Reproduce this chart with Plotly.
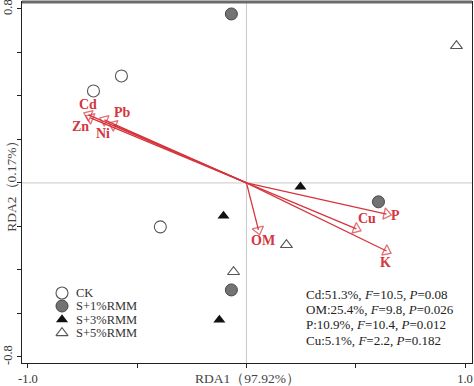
import plotly.graph_objects as go

# Sample scores
ck_x = [-0.70, -0.572, -0.394]
ck_y = [0.423, 0.492, -0.202]
s1_x = [-0.069, 0.604, -0.069]
s1_y = [0.777, -0.087, -0.492]
s3_x = [0.247, -0.105, -0.124]
s3_y = [-0.018, -0.152, -0.630]
s5_x = [0.961, 0.183, -0.059]
s5_y = [0.630, -0.285, -0.409]

# Environmental vectors
env_names = ["Cd", "Zn", "Pb", "Ni", "P", "Cu", "K", "OM"]
env_x = [-0.723, -0.714, -0.650, -0.609, 0.641, 0.503, 0.641, 0.055]
env_y = [0.313, 0.299, 0.290, 0.267, -0.143, -0.211, -0.313, -0.216]
# label offsets in pixels (dx, dy)
lab_off = {"Cd": (0, -10), "Zn": (-10, 9), "Pb": (18, -7), "Ni": (-10, 9),
           "P": (9, 1), "Cu": (11, -10), "K": (-1, 11), "OM": (5, 11)}

legend_names = ["CK", "S+1%RMM", "S+3%RMM", "S+5%RMM"]

stats_lines = ["Cd:51.3%, <i>F</i>=10.5, <i>P</i>=0.08",
               "OM:25.4%, <i>F</i>=9.8, <i>P</i>=0.026",
               "P:10.9%, <i>F</i>=10.4, <i>P</i>=0.012",
               "Cu:5.1%, <i>F</i>=2.2, <i>P</i>=0.182"]

x_ticks = [-1.0, -0.5, 0.0, 0.5, 1.0]
x_text = ["-1.0", "", "", "", "1.0"]
y_ticks = [-0.8, -0.6, -0.4, -0.2, 0.0, 0.2, 0.4, 0.6, 0.8]
y_text = ["-0.8", "", "", "", "", "", "", "", "0.8"]

RED = "#d6353d"
SERIF = "Liberation Serif, Times New Roman, serif"

styles = [
    dict(symbol="circle-open", size=12, color="#555555", line=dict(width=1.1)),
    dict(symbol="circle", size=12, color="#737373", line=dict(width=1, color="#444444")),
    dict(symbol="triangle-up", size=10.5, color="#111111"),
    dict(symbol="triangle-up-open", size=10.5, color="#555555", line=dict(width=1.1)),
]

fig = go.Figure()

# zero lines
fig.add_shape(type="line", xref="x", yref="paper", x0=0, x1=0, y0=0, y1=1,
              line=dict(color="#c8c8c8", width=1), layer="below")
fig.add_shape(type="line", xref="paper", yref="y", x0=0, x1=1, y0=0, y1=0,
              line=dict(color="#c8c8c8", width=1), layer="below")
# heavier grey top frame edge
fig.add_shape(type="line", xref="paper", yref="paper", x0=0, x1=1, y0=1, y1=1,
              line=dict(color="#6a6a6a", width=3))

for name, ex, ey in zip(env_names, env_x, env_y):
    fig.add_trace(go.Scatter(
        x=[0, ex], y=[0, ey], mode="lines+markers", showlegend=False,
        line=dict(color=RED, width=1.3),
        marker=dict(symbol="triangle-up-open", size=[0, 10], angleref="previous",
                    color=RED, line=dict(color=RED, width=1.3)),
        hoverinfo="skip"))
    dx, dy = lab_off[name]
    fig.add_annotation(x=ex, y=ey, text="<b>%s</b>" % name, showarrow=False,
                       xshift=dx, yshift=-dy,
                       font=dict(family=SERIF, size=14, color=RED))

for nm, xs, ys, st in zip(legend_names, [ck_x, s1_x, s3_x, s5_x],
                          [ck_y, s1_y, s3_y, s5_y], styles):
    fig.add_trace(go.Scatter(x=xs, y=ys, mode="markers", name=nm, marker=st,
                             showlegend=False))

# manual legend (compact spacing) on an overlay axis measured in pixels
leg_rows = [293, 306, 319.5, 333]
for nm, st, ly in zip(legend_names, styles, leg_rows):
    fig.add_trace(go.Scatter(x=[62], y=[ly], mode="markers", marker=st,
                             xaxis="x2", yaxis="y2", showlegend=False,
                             hoverinfo="skip"))
    fig.add_annotation(xref="x2", yref="y2", x=74, y=ly, text=nm,
                       xanchor="left", showarrow=False,
                       font=dict(family=SERIF, size=12.5, color="#333333"))

# statistics text block
stat_rows = [294, 309, 324.5, 340]
for line, ry in zip(stats_lines, stat_rows):
    fig.add_annotation(xref="x2", yref="y2", x=304, y=ry, xanchor="left",
                       showarrow=False, text=line,
                       font=dict(family=SERIF, size=13, color="#222222"))

# axis titles
fig.add_annotation(xref="paper", yref="paper", x=0.5, y=-0.042, text="RDA1（97.92%）",
                   showarrow=False, yanchor="middle",
                   font=dict(family=SERIF, size=13.5, color="#444444"))
fig.add_annotation(xref="paper", yref="paper", x=-0.024, y=0.5, text="RDA2（0.17%）",
                   showarrow=False, xanchor="center", textangle=-90,
                   font=dict(family=SERIF, size=13.5, color="#444444"))

fig.update_layout(
    width=474, height=386,
    margin=dict(l=22, r=2, t=2, b=23, autoexpand=False),
    paper_bgcolor="white", plot_bgcolor="white",
    font=dict(family=SERIF, size=12, color="#333333"),
    showlegend=False,
    xaxis=dict(range=[-1.027, 1.032], tickvals=x_ticks, ticktext=x_text,
               showgrid=False, zeroline=False, showline=True, linecolor="#222222",
               linewidth=1.2, mirror=True, ticks="outside", ticklen=4,
               tickcolor="#222222", automargin=False, ticklabeloverflow="allow",
               tickfont=dict(family=SERIF, size=12.5, color="#333333")),
    yaxis=dict(range=[-0.828, 0.832], tickvals=y_ticks, ticktext=y_text,
               showgrid=False, zeroline=False, showline=True, linecolor="#222222",
               linewidth=1.2, mirror=True, ticks="outside", ticklen=4,
               tickcolor="#222222", tickangle=-90, automargin=False,
               ticklabeloverflow="allow",
               tickfont=dict(family=SERIF, size=12.5, color="#333333")),
    xaxis2=dict(overlaying="x", range=[22, 472], visible=False, anchor="y2"),
    yaxis2=dict(overlaying="y", range=[363, 2], visible=False, anchor="x2"),
)

fig.write_html("out.html", config={"displayModeBar": False},
               post_script="document.body.style.margin='0';")
